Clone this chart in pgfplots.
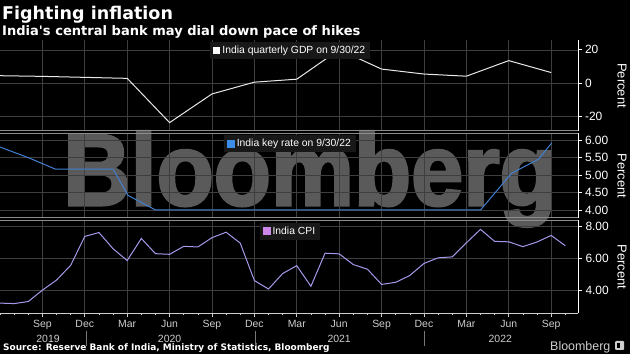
\documentclass[border=0pt]{standalone}
\usepackage{pgfplots}
\pgfplotsset{compat=1.18}
\usepackage{graphicx}
\usepackage{fontspec}
\setmainfont{Liberation Sans}
\newfontfamily\djv{DejaVu Sans}
\newfontfamily\wmfont{Liberation Sans Bold}[FakeBold=3]
\definecolor{gridc}{RGB}{62,62,62}
\definecolor{gdpc}{RGB}{232,232,232}
\definecolor{ratec}{RGB}{66,128,210}
\definecolor{ratesq}{RGB}{58,142,232}
\definecolor{cpic}{RGB}{168,152,236}
\definecolor{cpisq}{RGB}{204,136,232}
\definecolor{lblc}{RGB}{205,205,205}
\definecolor{wmc}{RGB}{90,90,90}
\definecolor{sepc}{RGB}{140,140,140}
\definecolor{legbg}{RGB}{24,24,24}

\pgfplotsset{
  panel/.style={
    scale only axis, width=578bp, xmin=6, xmax=46.9,
    axis x line*=bottom, axis y line*=right,
    axis line style={-},
    x axis line style={draw=none},
    y axis line style={white, line width=0.8bp},
    xtick={9,12,...,45}, xticklabels={},
    grid=major, major grid style={gridc, line width=0.6bp},
    tick align=outside,
    xtick style={draw=none},
    ytick style={white, line width=0.8bp},
    major tick length=3.5bp,
    yticklabel style={font=\fontsize{12}{12}\selectfont, text=white},
    every axis y label/.style={at={(axis description cs:1.0761,0.5)}, anchor=center, rotate=-90, font=\fontsize{13}{13}\selectfont, text=white},
    ylabel={Percent},
    legend style={at={(0.502,0.98)}, anchor=north, fill=legbg, draw=none, text=white, font=\fontsize{10.4}{12}\selectfont, inner xsep=3bp, inner ysep=2bp, legend cell align=left},
  },
}

\begin{document}
\begin{tikzpicture}
\path[use as bounding box] (0bp,0bp) rectangle (630bp,354bp);
\fill[black] (0bp,0bp) rectangle (630bp,354bp);

% watermark
\node[anchor=base west, inner sep=0pt, text=wmc, font=\wmfont\fontsize{102}{102}\selectfont] at (63bp,149bp) {\scalebox{0.92}[1]{Bloomberg}};

% titles
\node[anchor=base west, inner sep=0pt, text=white, font=\djv\bfseries\fontsize{17.6}{18}\selectfont] at (2bp,334.5bp) {Fighting inflation};
\node[anchor=base west, inner sep=0pt, text=white, font=\djv\bfseries\fontsize{13.1}{14}\selectfont] at (2bp,318bp) {India's central bank may dial down pace of hikes};
\node[anchor=base west, inner sep=0pt, text=white, font=\djv\bfseries\fontsize{9}{10}\selectfont] at (3bp,3.5bp) {Source: Reserve Bank of India, Ministry of Statistics, Bloomberg};
\node[anchor=base west, inner sep=0pt, text=lblc, font=\fontsize{12.5}{13}\selectfont] at (550bp,4bp) {Bloomberg};
\fill[lblc, rounded corners=1bp] (615bp,4bp) rectangle (624bp,13bp);
\fill[black] (617bp,6bp) rectangle (620bp,11bp);

% top panel: GDP
\begin{axis}[panel, at={(0bp,223bp)}, anchor=south west, height=91bp,
  ymin=-28.96, ymax=25.94, ytick={-20,0,20}, yticklabels={-20,0,20},
  legend image code/.code={\fill[white] (0bp,-3.2bp) rectangle (6.4bp,3.2bp);}]
\addplot[gdpc, line width=1bp] coordinates {
(6,4.4) (9,4.0) (12,3.4) (15,2.8) (18,-23.9) (21,-6.6) (24,0.5) (27,2.3)
(30,20.1) (33,8.4) (36,5.4) (39,4.1) (42,13.5) (45,6.3)};
\addlegendentry{India quarterly GDP on 9/30/22}
\end{axis}

% middle panel: key rate
\begin{axis}[panel, at={(0bp,136bp)}, anchor=south west, height=84.5bp,
  ymin=3.771, ymax=6.186, ytick={4,4.5,5,5.5,6}, yticklabels={4.00,4.50,5.00,5.50,6.00},
  legend image code/.code={\fill[ratesq] (0bp,-3.2bp) rectangle (6.4bp,3.2bp);}]
\addplot[ratec, line width=1bp] coordinates {
(6.0,5.80) (8.1,5.48) (9.9,5.17) (14.0,5.17) (15.05,4.42) (17.0,4.0)
(40.0,4.0) (42.2,5.05) (44.1,5.45) (45.05,5.92)};
\addlegendentry{India key rate on 9/30/22}
\end{axis}

% bottom panel: CPI
\begin{axis}[panel, at={(0bp,41bp)}, anchor=south west, height=92.5bp, clip=false,
  ymin=2.5625, ymax=8.344, ytick={4,6,8}, yticklabels={4.00,6.00,8.00},
  x axis line style={draw=lblc, line width=0.8bp},
  xtick style={draw=lblc, line width=0.6bp},
  minor xtick={6,...,46}, minor tick length=2.5bp, major tick length=4bp,
  xticklabels={Sep,Dec,Mar,Jun,Sep,Dec,Mar,Jun,Sep,Dec,Mar,Jun,Sep},
  xticklabel style={font=\fontsize{10.5}{11}\selectfont, text=lblc},
  legend image code/.code={\fill[cpisq] (0bp,-3.2bp) rectangle (6.4bp,3.2bp);}]
\addplot[cpic, line width=1bp] coordinates {
(6,3.18) (7,3.15) (8,3.28) (9,3.99) (10,4.62) (11,5.54) (12,7.35) (13,7.59)
(14,6.58) (15,5.84) (16,7.22) (17,6.27) (18,6.23) (19,6.73) (20,6.69) (21,7.27)
(22,7.61) (23,6.93) (24,4.59) (25,4.06) (26,5.03) (27,5.52) (28,4.23) (29,6.30)
(30,6.26) (31,5.59) (32,5.30) (33,4.35) (34,4.48) (35,4.91) (36,5.66) (37,6.01)
(38,6.07) (39,6.95) (40,7.79) (41,7.04) (42,7.01) (43,6.71) (44,7.00) (45,7.41)
(46,6.77)};
\addlegendentry{India CPI}
\node[font=\fontsize{10.5}{11}\selectfont, text=lblc, yshift=-26bp] at (axis cs:9.4,2.5625) {2019};
\node[font=\fontsize{10.5}{11}\selectfont, text=lblc, yshift=-26bp] at (axis cs:18,2.5625) {2020};
\node[font=\fontsize{10.5}{11}\selectfont, text=lblc, yshift=-26bp] at (axis cs:30,2.5625) {2021};
\node[font=\fontsize{10.5}{11}\selectfont, text=lblc, yshift=-26bp] at (axis cs:41.4,2.5625) {2022};
\draw[gridc!60!lblc, line width=0.6bp] ([yshift=-18bp]axis cs:12.08,2.5625) -- ([yshift=-33bp]axis cs:12.08,2.5625);
\draw[gridc!60!lblc, line width=0.6bp] ([yshift=-18bp]axis cs:24.04,2.5625) -- ([yshift=-33bp]axis cs:24.04,2.5625);
\draw[gridc!60!lblc, line width=0.6bp] ([yshift=-18bp]axis cs:36.0,2.5625) -- ([yshift=-33bp]axis cs:36.0,2.5625);
\end{axis}

% panel separators
\draw[sepc, line width=1bp] (0bp,223bp) -- (578bp,223bp);
\draw[sepc, line width=1bp] (0bp,220.5bp) -- (578bp,220.5bp);
\draw[sepc, line width=1bp] (0bp,136bp) -- (578bp,136bp);
\draw[sepc, line width=1bp] (0bp,133.5bp) -- (578bp,133.5bp);
\end{tikzpicture}
\end{document}
